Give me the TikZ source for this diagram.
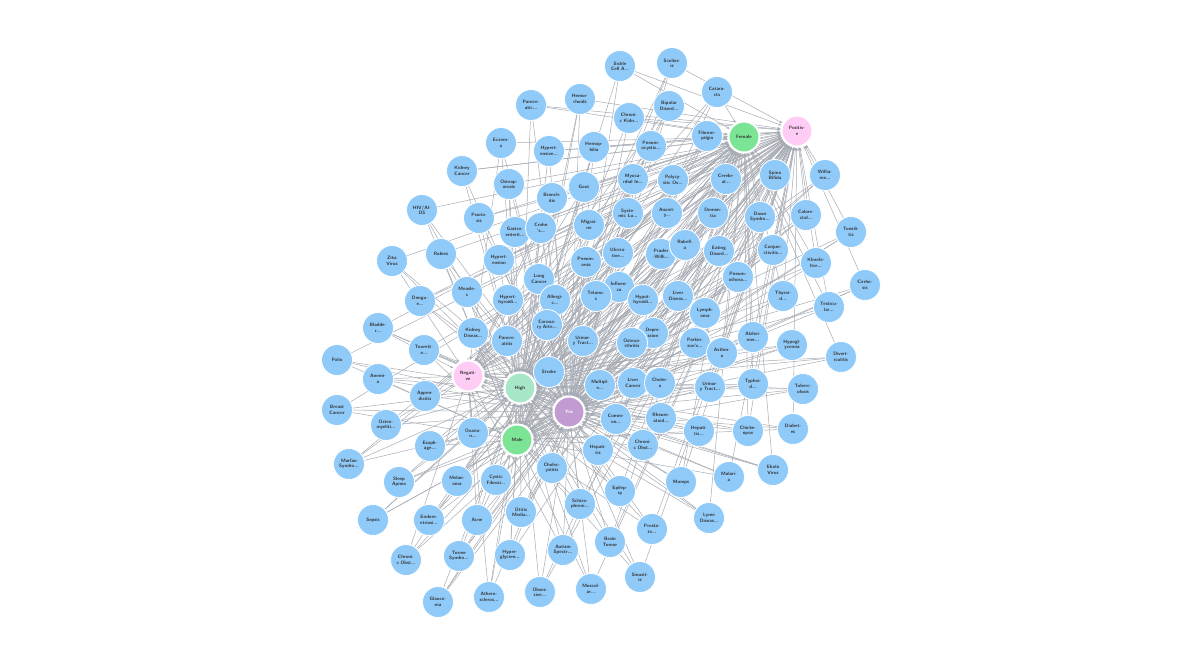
\documentclass[tikz,border=0pt]{standalone}
\usetikzlibrary{backgrounds,arrows.meta}
\definecolor{dblue}{HTML}{90CAF9}
\definecolor{hgreen}{HTML}{7BE495}
\definecolor{hpink}{HTML}{FFCCF5}
\definecolor{hmint}{HTML}{A8E6C8}
\definecolor{hpurp}{HTML}{C39BD3}
\definecolor{egray}{HTML}{A6AAB2}
\tikzset{
 dis/.style={circle,fill=dblue,draw=white,line width=0.4pt,minimum size=15.5pt,inner sep=0pt,align=center,font=\fontsize{2.4}{2.7}\selectfont\sffamily\bfseries,text=black!80},
 hub/.style={circle,draw=white,line width=1pt,minimum size=15.5pt,inner sep=0pt,align=center,font=\fontsize{2.4}{2.7}\selectfont\sffamily\bfseries,text=black!80},
 edge/.style={draw=egray,line width=0.25pt,-{Stealth[length=1.6pt,width=1.2pt]}}
}
\begin{document}
\begin{tikzpicture}[x=0.5pt,y=-0.5pt]
\useasboundingbox (0,0) rectangle (1200,666);
\node[hub,fill=hpink] (pos) at (797,131) {Positiv-\\e};
\node[hub,fill=hgreen] (fem) at (744,137) {Female};
\node[hub,fill=hpink] (neg) at (468,376) {Negati-\\ve};
\node[hub,fill=hmint] (high) at (520,388) {High};
\node[hub,fill=hpurp,text=white] (yes) at (569,412) {Yes};
\node[hub,fill=hgreen] (male) at (517,440) {Male};
\foreach \x/\y/\t [count=\i] in {
620/66/{Sickle\\Cell A...},672/63/{Scolios-\\is},717/92/{Catara-\\cts},580/99/{Hemor-\\rhoids},531/105/{Pancre-\\atic...},669/106/{Bipolar\\Disord...},629/118/{Chroni-\\c Kidn...},707/136/{Fibrom-\\yalgia},501/143/{Eczem-\\a},594/147/{Hemop-\\hilia},549/151/{Hypert-\\ensive...},651/146/{Pneum-\\ocystis...},462/171/{Kidney\\Cancer},509/184/{Osteop-\\orosis},584/187/{Gout},633/179/{Myoca-\\rdial In...},673/180/{Polycy-\\stic Ov...},726/179/{Cerebr-\\al...},775/175/{Spina\\Bifida},825/175/{Willia-\\ms...},552/198/{Bronch-\\itis},422/210/{HIV/AI-\\DS},479/218/{Psoria-\\sis},628/213/{Syste-\\mic Lu...},667/213/{Anxiet-\\y...},713/213/{Demen-\\tia},760/217/{Down\\Syndro...},806/215/{Colore-\\ctal...},515/232/{Gastro-\\enterit...},541/228/{Crohn\\'s...},589/225/{Migrai-\\ne},851/232/{Tonsili-\\tis},392/261/{Zika\\Virus},441/254/{Rabies},499/260/{Hypert-\\ension},618/253/{Ulcera-\\tive...},661/254/{Prader\\-Willi...},685/245/{Rubell-\\a},719/251/{Eating\\Disord...},773/250/{Conjun-\\ctivitis...},586/262/{Pneum-\\onia},539/279/{Lung\\Cancer},816/263/{Klinefe-\\lter...},865/285/{Cirrho-\\sis},619/287/{Influen-\\za},467/292/{Measle-\\s},420/301/{Dengu-\\e...},596/296/{Tetanu-\\s},555/300/{Allergi-\\c...},643/300/{Hypot-\\hyroidi...},678/296/{Liver\\Diseas...},738/277/{Pneum-\\othora...},783/296/{Thyroi-\\d...},508/300/{Hypert-\\hyroidi...},829/307/{Testicu-\\lar...},705/313/{Lymph-\\oma},378/328/{Bladde-\\r...},547/325/{Corona-\\ry Arte...},473/333/{Kidney\\Diseas...},653/333/{Depre-\\ssion},632/343/{Osteoa-\\rthritis},583/341/{Urinar-\\y Tract...},507/341/{Pancre-\\atitis},695/343/{Parkin-\\son's...},753/337/{Alzhei-\\mer...},792/345/{Hypogl-\\ycemia},722/353/{Asthm-\\a},424/350/{Tourett-\\e...},841/357/{Divert-\\iculitis},337/360/{Polio},549/372/{Stroke},378/379/{Anemi-\\a},600/385/{Multipl-\\e...},633/383/{Liver\\Cancer},660/383/{Choler-\\a},710/387/{Urinar-\\y Tract...},753/384/{Typhoi-\\d...},803/389/{Tuberc-\\ulosis},425/396/{Appen-\\dicitis},337/410/{Breast\\Cancer},386/425/{Osteo-\\myeliti...},616/419/{Comm-\\on...},661/418/{Rheum-\\atoid...},699/431/{Hepati-\\tis...},748/431/{Chicke-\\npox},793/429/{Diabet-\\es},473/433/{Ovaria-\\n...},430/446/{Esoph-\\age...},598/450/{Hepati-\\tis},643/445/{Chroni-\\c Obst...},349/464/{Marfan\\Syndro...},552/468/{Cholec-\\ystitis},773/470/{Ebola\\Virus},399/482/{Sleep\\Apnea},457/481/{Melan-\\oma},496/480/{Cystic\\Fibrosi...},681/482/{Mumps},729/477/{Malari-\\a},620/491/{Epilep-\\sy},373/520/{Sepsis},429/520/{Endom-\\etriosi...},477/520/{Acne},521/512/{Otitis\\Media...},580/504/{Schizo-\\phreni...},709/518/{Lyme\\Diseas...},652/529/{Prosta-\\te...},610/542/{Brain\\Tumor},406/560/{Chroni-\\c Obst...},459/556/{Turner\\Syndro...},510/555/{Hyper-\\glycem...},563/550/{Autism\\Spectr...},640/577/{Sinusit-\\is},438/602/{Glauco-\\ma},489/597/{Athero-\\scleros...},540/592/{Obses-\\sive...},591/589/{Muscul-\\ar...}}
{ \node[dis] (d\i) at (\x,\y) {\t}; \xdef\ndis{\i} }
\begin{scope}[on background layer]
\foreach \i in {1,...,\ndis}{
  \pgfmathtruncatemacro\g{mod(\i,2)}
  \pgfmathtruncatemacro\r{mod(\i,3)}
  \ifnum\g=1 \draw[edge] (d\i) -- (fem); \else \draw[edge] (d\i) -- (male); \fi
  \ifnum\r=0 \draw[edge] (d\i) -- (neg); \else \draw[edge] (d\i) -- (pos); \fi
  \draw[edge] (d\i) -- (yes);
  \draw[edge] (d\i) -- (high);
}
\end{scope}
\end{tikzpicture}
\end{document}
